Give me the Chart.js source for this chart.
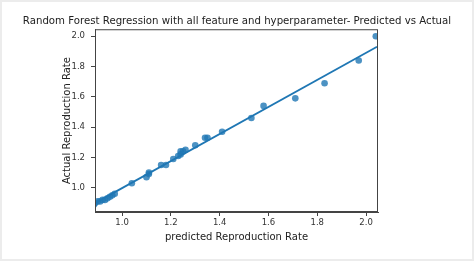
<!DOCTYPE html>
<html>
<head>
<meta charset="utf-8">
<script src="https://cdn.jsdelivr.net/npm/chart.js@4/dist/chart.umd.min.js"></script>
<style>
  html, body { margin: 0; padding: 0; background: #fff; }
  #wrap { width: 474px; height: 261px; position: relative; box-sizing: border-box; border: 2px solid #ececec; }
  canvas { display: block; }
</style>
</head>
<body>
<div id="wrap"><canvas id="chart" width="470" height="257"></canvas></div>
<script>
// Predicted vs actual reproduction rate
const predicted = [0.885, 0.89, 0.90, 0.91, 0.92, 0.93, 0.94, 0.95, 0.96, 0.97,
  1.04, 1.10, 1.11, 1.11, 1.16, 1.18, 1.21, 1.23, 1.24, 1.24, 1.25, 1.26,
  1.30, 1.34, 1.35, 1.41, 1.53, 1.58, 1.71, 1.83, 1.97, 2.04];
const actual = [0.89, 0.90, 0.91, 0.91, 0.92, 0.92, 0.93, 0.94, 0.95, 0.96,
  1.03, 1.07, 1.09, 1.10, 1.15, 1.15, 1.19, 1.21, 1.22, 1.24, 1.24, 1.25,
  1.28, 1.33, 1.33, 1.37, 1.46, 1.54, 1.59, 1.69, 1.84, 2.00];

// regression line ends
const fitX = [0.885, 2.045];
const fitY = [0.895, 1.93];

const xTicks = [1.0, 1.2, 1.4, 1.6, 1.8, 2.0];
const yTicks = [1.0, 1.2, 1.4, 1.6, 1.8, 2.0];

const blue = '#1f77b4';
const axisGrey = '#444';

// matplotlib style box around the plot area
const frame = {
  id: 'frame',
  afterDatasetsDraw(chart) {
    const { ctx, chartArea: a } = chart;
    ctx.save();
    ctx.strokeStyle = axisGrey;
    ctx.lineWidth = 1;
    ctx.strokeRect(a.left + 0.5, a.top + 0.5, a.right - a.left - 1, a.bottom - a.top - 1);
    ctx.restore();
  }
};

const ctx = document.getElementById('chart').getContext('2d');
new Chart(ctx, {
  type: 'scatter',
  data: {
    datasets: [
      {
        label: 'fit',
        type: 'line',
        data: fitX.map((x, i) => ({ x: x, y: fitY[i] })),
        borderColor: blue,
        borderWidth: 1.8,
        pointRadius: 0,
        fill: false,
        order: 2
      },
      {
        label: 'data',
        data: predicted.map((x, i) => ({ x: x, y: actual[i] })),
        backgroundColor: 'rgba(31,119,180,0.8)',
        borderWidth: 0,
        pointRadius: 3.3,
        order: 1
      }
    ]
  },
  options: {
    responsive: false,
    animation: false,
    layout: { padding: 0 },
    plugins: {
      legend: { display: false },
      tooltip: { enabled: false },
      title: {
        display: true,
        text: 'Random Forest Regression with all feature and hyperparameter- Predicted vs Actual',
        color: '#222',
        font: { family: 'DejaVu Sans', size: 10.2, weight: 'normal' },
        padding: { top: 13, bottom: 2 }
      }
    },
    scales: {
      x: {
        type: 'linear',
        min: 0.889,
        max: 2.049,
        afterBuildTicks: s => { s.ticks = xTicks.map(v => ({ value: v })); },
        afterFit: s => { s.height = 47; },
        grid: { drawOnChartArea: false, drawTicks: true, tickLength: 4, tickColor: axisGrey },
        border: { display: true, color: axisGrey },
        ticks: {
          color: '#333',
          padding: 2,
          font: { family: 'DejaVu Sans', size: 8.5 },
          callback: v => v.toFixed(1)
        },
        title: {
          display: true,
          text: 'predicted Reproduction Rate',
          color: '#222',
          font: { family: 'DejaVu Sans', size: 10 },
          padding: { top: 0, bottom: 16 }
        }
      },
      y: {
        type: 'linear',
        min: 0.84,
        max: 2.046,
        afterBuildTicks: s => { s.ticks = yTicks.map(v => ({ value: v })); },
        afterFit: s => { s.width = 93; },
        grid: { drawOnChartArea: false, drawTicks: true, tickLength: 4, tickColor: axisGrey },
        border: { display: true, color: axisGrey },
        ticks: {
          color: '#333',
          padding: 6,
          font: { family: 'DejaVu Sans', size: 8.5 },
          callback: v => v.toFixed(1)
        },
        title: {
          display: true,
          text: 'Actual Reproduction Rate',
          color: '#222',
          font: { family: 'DejaVu Sans', size: 10 },
          padding: { top: 59, bottom: 0 }
        }
      },
      // empty right-hand box keeps the plot the same width as the reference
      yRight: {
        type: 'linear',
        position: 'right',
        min: 0.84,
        max: 2.046,
        afterFit: s => { s.width = 94; },
        grid: { display: false },
        border: { display: false },
        ticks: { display: false }
      }
    }
  },
  plugins: [frame]
});
</script>
</body>
</html>
